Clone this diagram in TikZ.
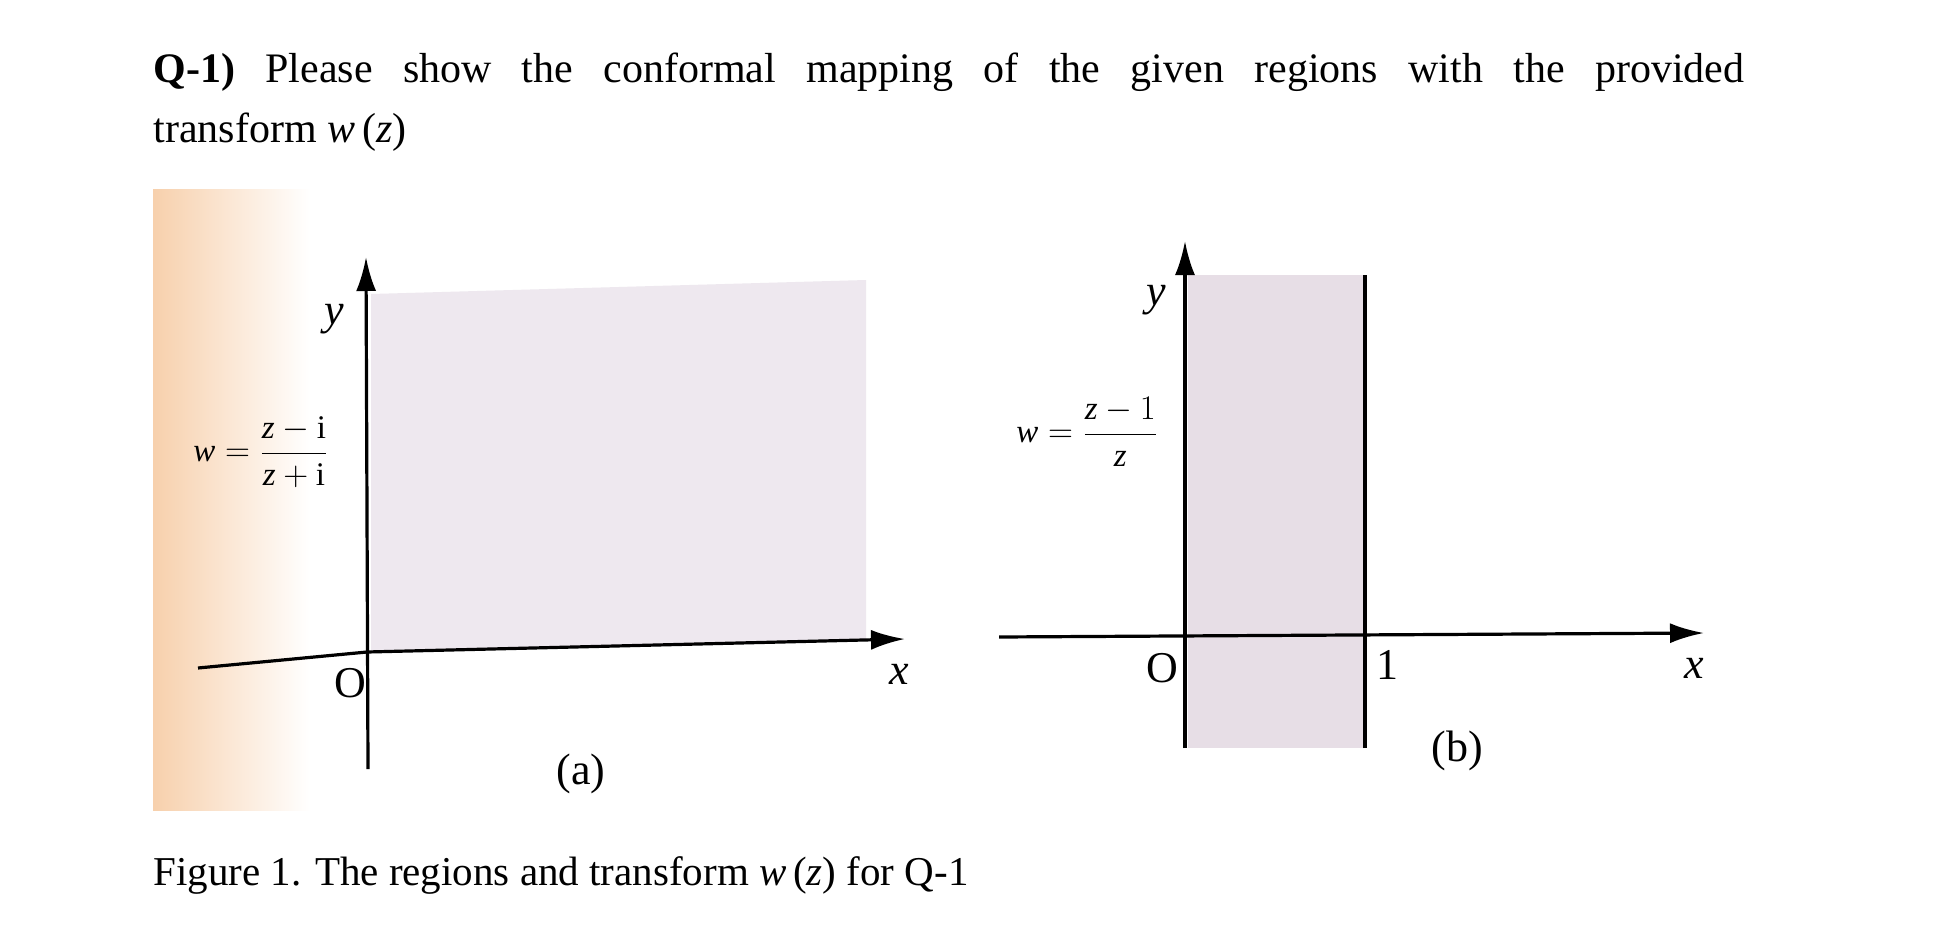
\documentclass[tikz,border=0pt]{standalone}
\usepackage{fontspec}
\setmainfont{Liberation Serif}
\usetikzlibrary{arrows.meta,positioning,calc}
\definecolor{regionpink}{RGB}{238,232,239}
\definecolor{strippink}{RGB}{231,222,230}
\definecolor{scanorange}{RGB}{247,208,172}
\definecolor{scancream}{RGB}{253,243,212}

\begin{document}
\begin{tikzpicture}[x=0.5pt,y=-0.5pt,
    axis/.style={line width=1.6pt,-{Latex[length=17pt,width=10pt]}},
    edge/.style={line width=1.6pt},
    lab/.style={inner sep=0pt,font=\fontsize{22}{26}\selectfont},
    formula/.style={inner sep=0pt,anchor=west,font=\fontsize{16.5}{19}\selectfont},
    txt/.style={inner sep=0pt,anchor=base west,font=\fontsize{21}{25}\selectfont}]
    \useasboundingbox (0,0) rectangle (1939,937);
    \fill[white] (0,0) rectangle (1939,937);
    \node[txt] (title1) at (153,82) {\makebox[795.5pt][s]{\textbf{Q-1)} Please show the conformal mapping of the given regions with the provided}};
    \node[txt] (title2) at (153,142) {transform \textit{w}\,(\textit{z}\/)};
    \node[txt, font=\fontsize{20.5}{25}\selectfont] (caption) at (153,885) {Figure 1. The regions and transform \textit{w}\,(\textit{z}\/) for Q-1};
    \shade[left color=scanorange, middle color=scancream, right color=white] (153,189) rectangle (310,810);

    \coordinate (ao) at (367,652);
    \coordinate (axl) at (198,668);
    \coordinate (axr) at (905,639);
    \coordinate (ayb) at (368,769);
    \coordinate (ayt) at (366,257);
    \fill[regionpink] (371,294) -- (866,280) -- (866,640) -- (371,651) -- cycle;
    \draw[axis] (axl) -- (ao) -- (axr);
    \draw[axis] (ayb) -- (ayt);
    \node[lab] (ay) at (334,319) {\textit{y}};
    \node[lab] (ax) at (899,674) {\textit{x}};
    \node[lab] (aO) at (350,683) {O};
    \node[lab] (acap) at (581,774) {(a)};
    \node[formula] (aw) at (193,452) {$\displaystyle\textit{w}=\frac{\textit{z}-\mathrm{i}}{\textit{z}+\mathrm{i}}$};

    \coordinate (bo) at (1185,636);
    \coordinate (bxl) at (999,637);
    \coordinate (bxr) at (1704,633);
    \coordinate (byb) at (1185,748);
    \coordinate (byt) at (1185,241);
    \coordinate (b1b) at (1365,748);
    \coordinate (b1t) at (1365,275);
    \fill[strippink] (1188,275) rectangle (1364,748);
    \draw[axis] (bxl) -- (bxr);
    \draw[axis] (byb) -- (byt);
    \draw[edge] (b1b) -- (b1t);
    \node[lab] (by) at (1156,300) {\textit{y}};
    \node[lab] (bO) at (1162,668) {O};
    \node[lab] (b1) at (1387,665) {1};
    \node[lab] (bx) at (1694,668) {\textit{x}};
    \node[lab] (bcap) at (1457,751) {(b)};
    \node[formula] (bw) at (1016,432) {$\displaystyle\textit{w}=\frac{\textit{z}-1}{\textit{z}}$};
\end{tikzpicture}
\end{document}
